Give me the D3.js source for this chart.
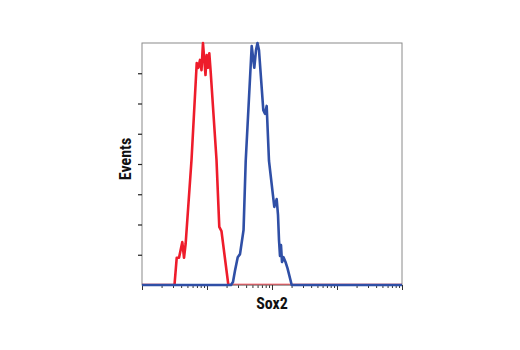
<!doctype html>
<html>
  <head>
    <meta charset="utf-8">
    <script src="https://d3js.org/d3.v7.min.js"></script>
    <style>
      body { margin: 0; background: #fff; }
    </style>
  </head>
  <body>
    <script>
    // fluorescence (log scale) and event counts
    var isoX = [1, 3.16, 3.42, 3.71, 4.17, 4.43, 4.70, 5.78, 6.95, 7.35, 7.80, 8.23, 8.67, 9.09, 9.48, 9.89, 10.35, 10.85, 11.40, 14.0, 15.45, 16.7, 21.3, 10000];
    var isoY = [0, 0, 45, 45, 71, 45, 69, 207, 367, 359, 372, 355, 400, 372, 347, 380, 359, 383, 352, 207, 96, 89, 0, 0];

    var soxX = [1, 23.4, 25.1, 26.9, 29.7, 32.2, 36.5, 39.4, 48.7, 53.4, 56.7, 59.8, 63.1, 73.5, 78.0, 82.8, 89.9, 108.5, 118, 123.7, 128.2, 132.8, 137.5, 142.5, 150.3, 161.4, 173, 201, 10000];
    var soxY = [0, 0, 5, 23, 46, 51, 91, 205, 395, 359, 388, 400, 388, 289, 283, 296, 205, 129, 142, 116, 74, 48, 66, 38, 46, 38, 28, 0, 0];

    var yTicks = [50, 100, 150, 200, 250, 300, 350];
    var xDecades = [1, 10, 100, 1000, 10000];

    var width = 520;
    var height = 350;
    var margin = {top: 43, right: 118, bottom: 65, left: 142};
    var innerWidth = width - margin.left - margin.right;
    var innerHeight = height - margin.top - margin.bottom;

    var svg = d3.select("body")
      .append("svg")
      .attr("width", width)
      .attr("height", height);

    // isotype trace is cut at the axis so its flat part shows only as a thin line
    svg.append("defs").append("clipPath")
      .attr("id", "plot")
      .append("rect")
      .attr("x", -2).attr("y", -3)
      .attr("width", innerWidth + 4).attr("height", innerHeight + 2.4);

    var g = svg.append("g")
      .attr("transform", "translate(" + margin.left + "," + margin.top + ")");

    var x = d3.scaleLog().domain([1, 10000]).range([0, innerWidth]);
    var y = d3.scaleLinear().domain([0, 400]).range([innerHeight, 0]);

    // frame
    g.append("rect")
      .attr("x", 0).attr("y", 0)
      .attr("width", innerWidth).attr("height", innerHeight)
      .attr("fill", "none")
      .attr("stroke", "#8a8a8a")
      .attr("stroke-width", 1);

    // y ticks (no labels)
    var yAxis = g.append("g")
      .call(d3.axisLeft(y).tickValues(yTicks).tickSize(4).tickFormat(""));
    yAxis.select(".domain").remove();
    yAxis.selectAll(".tick line").attr("stroke", "#222").attr("stroke-width", 1.2);

    // x ticks, log minor ticks
    var minor = [];
    xDecades.slice(0, -1).forEach(function(d) {
      for (var k = 2; k <= 9; k++) minor.push(d * k);
    });
    var xMinor = g.append("g")
      .attr("transform", "translate(0," + innerHeight + ")")
      .call(d3.axisBottom(x).tickValues(minor).tickSize(3).tickFormat(""));
    xMinor.select(".domain").remove();
    xMinor.selectAll(".tick line").attr("stroke", "#333");

    var xMajor = g.append("g")
      .attr("transform", "translate(0," + innerHeight + ")")
      .call(d3.axisBottom(x).tickValues(xDecades).tickSize(5).tickFormat(""));
    xMajor.select(".domain").attr("stroke", "#8a7a7a").attr("d", "M0,0H" + innerWidth);
    xMajor.selectAll(".tick line").attr("stroke", "#333");

    var line = d3.line()
      .x(function(d) { return x(d[0]); })
      .y(function(d) { return y(d[1]); });

    g.append("path")
      .datum(d3.zip(isoX, isoY))
      .attr("d", line)
      .attr("clip-path", "url(#plot)")
      .attr("fill", "none")
      .attr("stroke", "#ee1c2b")
      .attr("stroke-width", 2.6)
      .attr("stroke-linejoin", "round");

    g.append("path")
      .datum(d3.zip(soxX, soxY))
      .attr("d", line)
      .attr("fill", "none")
      .attr("stroke", "#2f4fa6")
      .attr("stroke-width", 2.6)
      .attr("stroke-linejoin", "round");

    // axis titles
    svg.append("text")
      .attr("x", margin.left + innerWidth / 2)
      .attr("y", 309)
      .attr("text-anchor", "middle")
      .attr("font-family", "'Liberation Sans Narrow', 'Roboto Condensed', 'Liberation Sans', sans-serif")
      .attr("font-weight", "bold")
      .attr("font-size", "16px")
      .attr("fill", "#111")
      .text("Sox2");

    svg.append("text")
      .attr("transform", "translate(131,159) rotate(-90)")
      .attr("text-anchor", "middle")
      .attr("font-family", "'Liberation Sans Narrow', 'Roboto Condensed', 'Liberation Sans', sans-serif")
      .attr("font-weight", "bold")
      .attr("font-size", "16px")
      .attr("fill", "#111")
      .text("Events");
    </script>
  </body>
</html>
